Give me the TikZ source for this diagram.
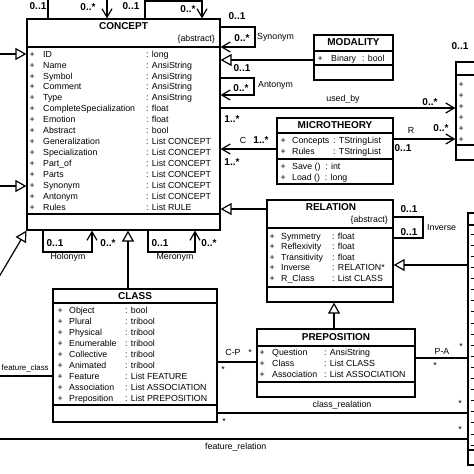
\documentclass[tikz,border=0pt]{standalone}
\usepackage{fontspec}
\setmainfont{Liberation Sans}
\usetikzlibrary{arrows.meta, fit}

\tikzset{
  box/.style={draw, line width=1.2pt, inner sep=0pt},
  sepline/.style={line width=1.1pt},
  ttl/.style={font=\bfseries, anchor=base, inner sep=0pt},
  attr/.style={anchor=base west, inner sep=0pt},
  mult/.style={font=\bfseries, inner sep=0pt},
  lbl/.style={inner sep=0pt},
  star/.style={inner sep=0pt, yshift=-2pt},
  tick/.style={line width=0.6pt},
  assoc/.style={line width=1.2pt},
  nav/.style={assoc, -{Straight Barb[length=8.5pt, width=10pt]}},
  inh/.style={assoc, -{Triangle[open, length=11pt, width=12pt]}},
}

\begin{document}
\begin{tikzpicture}[x=1pt, y=-1pt, font=\fontsize{8.8}{10.5}\selectfont, line cap=butt, line join=miter]
\useasboundingbox (0,0) rectangle (474,474);
\fill[white] (0,0) rectangle (474,474);
\clip (0,0) rectangle (474,474);

% ---------- CONCEPT
\node[box, fit={(27,19) (220,230)}] (concept) {};
\node[ttl] (concept-ttl) at (123.5,29.2) {CONCEPT};
\node[attr, anchor=base east] (concept-abs) at (215,41.2) {\{abstract\}};
\draw[sepline] (27,47) -- (220,47) (27,214) -- (220,214);
\foreach \n/\t [count=\i] in {ID/long, Name/AnsiString, Symbol/AnsiString, Comment/AnsiString,
    Type/AnsiString, CompleteSpecialization/float, Emotion/float, Abstract/bool,
    Generalization/List CONCEPT, Specialization/List CONCEPT, Part\_of/List CONCEPT,
    Parts/List CONCEPT, Synonym/List CONCEPT, Antonym/List CONCEPT, Rules/List RULE}{
  \pgfmathsetmacro{\yy}{57.2+10.93*(\i-1)}
  \node[attr] (concept-p\i) at (29.5,\yy) {+};
  \node[attr] (concept-n\i) at (43,\yy) {\n};
  \node[attr] (concept-t\i) at (146,\yy) {: \t};
}

% ---------- MODALITY
\node[box, fit={(314,35) (393,80)}] (modality) {};
\node[ttl] (modality-ttl) at (353.5,45.2) {MODALITY};
\draw[sepline] (314,51) -- (393,51) (314,65) -- (393,65);
\node[attr] (modality-p1) at (317.5,61.2) {+};
\node[attr] (modality-n1) at (331,61.2) {Binary};
\node[attr] (modality-t1) at (362,61.2) {: bool};

% ---------- MICROTHEORY
\node[box, fit={(277,118) (393,184)}] (micro) {};
\node[ttl] (micro-ttl) at (335,128.2) {MICROTHEORY};
\draw[sepline] (277,133) -- (393,133) (277,159) -- (393,159);
\foreach \n/\t [count=\i] in {Concepts/TStringList, Rules/TStringList}{
  \pgfmathsetmacro{\yy}{143.2+11*(\i-1)}
  \node[attr] (micro-p\i) at (280.5,\yy) {+};
  \node[attr] (micro-n\i) at (292,\yy) {\n};
  \node[attr] (micro-t\i) at (333,\yy) {: \t};
}
\node[attr] (micro-p3) at (280.5,169.2) {+};
\node[attr] (micro-o1) at (292,169.2) {Save () \ : int};
\node[attr] (micro-p4) at (280.5,180.2) {+};
\node[attr] (micro-o2) at (292,180.2) {Load () \ : long};

% ---------- RELATION
\node[box, fit={(267,200) (393,302)}] (relation) {};
\node[ttl] (relation-ttl) at (331,210.2) {RELATION};
\node[attr, anchor=base east] (relation-abs) at (388,222.2) {\{abstract\}};
\draw[sepline] (267,228) -- (393,228) (267,287) -- (393,287);
\foreach \n/\t [count=\i] in {Symmetry/float, Reflexivity/float, Transitivity/float,
    Inverse/RELATION*, R\_Class/List CLASS}{
  \pgfmathsetmacro{\yy}{239.2+10.5*(\i-1)}
  \node[attr] (relation-p\i) at (269.5,\yy) {+};
  \node[attr] (relation-n\i) at (281,\yy) {\n};
  \node[attr] (relation-t\i) at (332,\yy) {: \t};
}

% ---------- PREPOSITION
\node[box, fit={(257,329) (415,397)}] (prep) {};
\node[ttl] (prep-ttl) at (336,340.2) {PREPOSITION};
\draw[sepline] (257,346) -- (415,346) (257,382) -- (415,382);
\foreach \n/\t [count=\i] in {Question/AnsiString, Class/List CLASS, Association/List ASSOCIATION}{
  \pgfmathsetmacro{\yy}{355+11.1*(\i-1)}
  \node[attr] (prep-p\i) at (259.5,\yy) {+};
  \node[attr] (prep-n\i) at (272,\yy) {\n};
  \node[attr] (prep-t\i) at (324,\yy) {: \t};
}

% ---------- CLASS
\node[box, fit={(53,289) (217,422)}] (class) {};
\node[ttl] (class-ttl) at (135,299.2) {CLASS};
\draw[sepline] (53,303) -- (217,303) (53,405) -- (217,405);
\foreach \n/\t [count=\i] in {Object/bool, Plural/tribool, Physical/tribool, Enumerable/tribool,
    Collective/tribool, Animated/tribool, Feature/List FEATURE, Association/List ASSOCIATION,
    Preposition/List PREPOSITION}{
  \pgfmathsetmacro{\yy}{313.2+11*(\i-1)}
  \node[attr] (class-p\i) at (57.5,\yy) {+};
  \node[attr] (class-n\i) at (69,\yy) {\n};
  \node[attr] (class-t\i) at (125,\yy) {: \t};
}

% ---------- boxes cut by the right edge
\node[box, fit={(456,62) (540,160)}] (rbox1) {};
\draw[sepline] (456,75) -- (540,75) (456,145) -- (540,145);
\foreach \i in {1,...,6}{
  \node[attr] (rbox1-p\i) at (458.5,{87.2+11*(\i-1)}) {+};
}
\node[box, fit={(468,213) (540,465)}] (rbox2) {};
\draw[sepline] (468,225) -- (540,225) (468,450) -- (540,450);
% row marks, cut by the edge
\foreach \i in {1,...,20}{
  \draw[tick] (471,{234+11.1*(\i-1)}) -- (474,{234+11.1*(\i-1)});
}

% free ends outside the picture
\coordinate (in1) at (-5,54);
\coordinate (in2) at (-5,186);
\coordinate (in3) at (-4,282);
\coordinate (fc) at (-5,376);
\coordinate (fr) at (-5,439);

% ---------- self associations of CONCEPT
\draw[nav] (concept.north -| 48,0) -- (48,-6) -- (107,-6) -- (concept.north -| 107,0);
\draw[nav] (concept.north -| 145,0) -- (145,1) -- (202,1) -- (concept.north -| 202,0);
\node[mult] (m1) at (38,6) {0..1};
\node[mult] (m2) at (88,7) {0..*};
\node[mult] (m3) at (131,6) {0..1};
\node[mult] (m4) at (188,9) {0..*};

\draw[nav] (concept.east |- 0,27) -- (255,27) -- (255,47) -- (concept.east |- 0,47);
\node[mult] (m5) at (237,16) {0..1};
\node[mult] (m6) at (242,38) {0..*};
\node[lbl, anchor=west] (synonym) at (257,37) {Synonym};

\draw[nav] (concept.east |- 0,78) -- (254,78) -- (254,95) -- (concept.east |- 0,95);
\node[mult] (m7) at (242,68) {0..1};
\node[mult] (m8) at (241,88) {0..*};
\node[lbl, anchor=west] (antonym) at (258,85) {Antonym};

\draw[nav] (concept.south -| 43,0) -- (43,252) -- (92,252) -- (concept.south -| 92,0);
\node[mult] (m9) at (55,243) {0..1};
\node[mult] (m10) at (108,243) {0..*};
\node[lbl] (holonym) at (68,257) {Holonym};

\draw[nav] (concept.south -| 148,0) -- (148,252) -- (195,252) -- (concept.south -| 195,0);
\node[mult] (m11) at (160,243) {0..1};
\node[mult] (m12) at (209,243) {0..*};
\node[lbl] (meronym) at (175,257) {Meronym};

% ---------- generalizations
\draw[inh] (in1) -- (concept.west |- in1);
\draw[inh] (in2) -- (concept.west |- in2);
\draw[inh] (in3) -- (concept.south west);
\draw[inh] (modality.west |- 0,60) -- (concept.east |- 0,60);
\draw[inh] (relation.west |- 0,209) -- (concept.east |- 0,209);
\draw[inh] (class.north -| 128,0) -- (concept.south -| 128,0);
\draw[inh] (prep.north -| 334,0) -- (relation.south -| 334,0);
\draw[inh] (rbox2.west |- 0,265) -- (relation.east |- 0,265);

% ---------- associations
\draw[nav] (concept.east |- 0,108) -- (rbox1.west |- 0,108);
\node[lbl] (usedby) at (343,99) {used\_by};
\node[mult] (m13) at (430,102) {0..*};
\node[mult] (m14) at (232,119) {1..*};
\node[mult] (m15) at (460,46) {0..1};

\draw[nav] (micro.west |- 0,149) -- (concept.east |- 0,149);
\node[lbl] (c-lbl) at (243,140) {C};
\node[mult] (m16) at (261,140) {1..*};
\node[mult] (m17) at (232,162) {1..*};

\draw[nav] (micro.east |- 0,139) -- (rbox1.west |- 0,139);
\node[lbl] (r-lbl) at (411,130) {R};
\node[mult] (m18) at (441,128) {0..*};
\node[mult] (m19) at (403,148) {0..1};

\draw[assoc] (relation.east |- 0,217) -- (423,217) -- (423,238) -- (relation.east |- 0,238);
\node[mult] (m20) at (409,209) {0..1};
\node[mult] (m21) at (409,232) {0..1};
\node[lbl, anchor=west] (inverse) at (427,228) {Inverse};

\draw[assoc] (fc) -- (class.west |- fc);
\node[lbl, anchor=west, font=\fontsize{7.9}{9}\selectfont] (featclass) at (1.5,368) {feature\_class};

\draw[assoc] (class.east |- 0,362) -- (prep.west |- 0,362);
\node[lbl] (cp) at (233,352) {C-P};
\node[star] (s1) at (250,350) {*};
\node[star] (s2) at (223,367) {*};

\draw[assoc] (prep.east |- 0,358) -- (rbox2.west |- 0,358);
\node[lbl] (pa) at (442,351) {P-A};
\node[star] (s3) at (435,363) {*};
\node[star] (s4) at (461,344) {*};

\draw[assoc] (class.east |- 0,413) -- (rbox2.west |- 0,413);
\node[lbl] (classrel) at (342,405) {class\_realation};
\node[star] (s5) at (460,401) {*};
\node[star] (s6) at (224,419) {*};

\draw[assoc] (fr) -- (rbox2.west |- fr);
\node[lbl, anchor=west] (featrel) at (205,447) {feature\_relation};
\node[star] (s7) at (460,427) {*};
\end{tikzpicture}
\end{document}
